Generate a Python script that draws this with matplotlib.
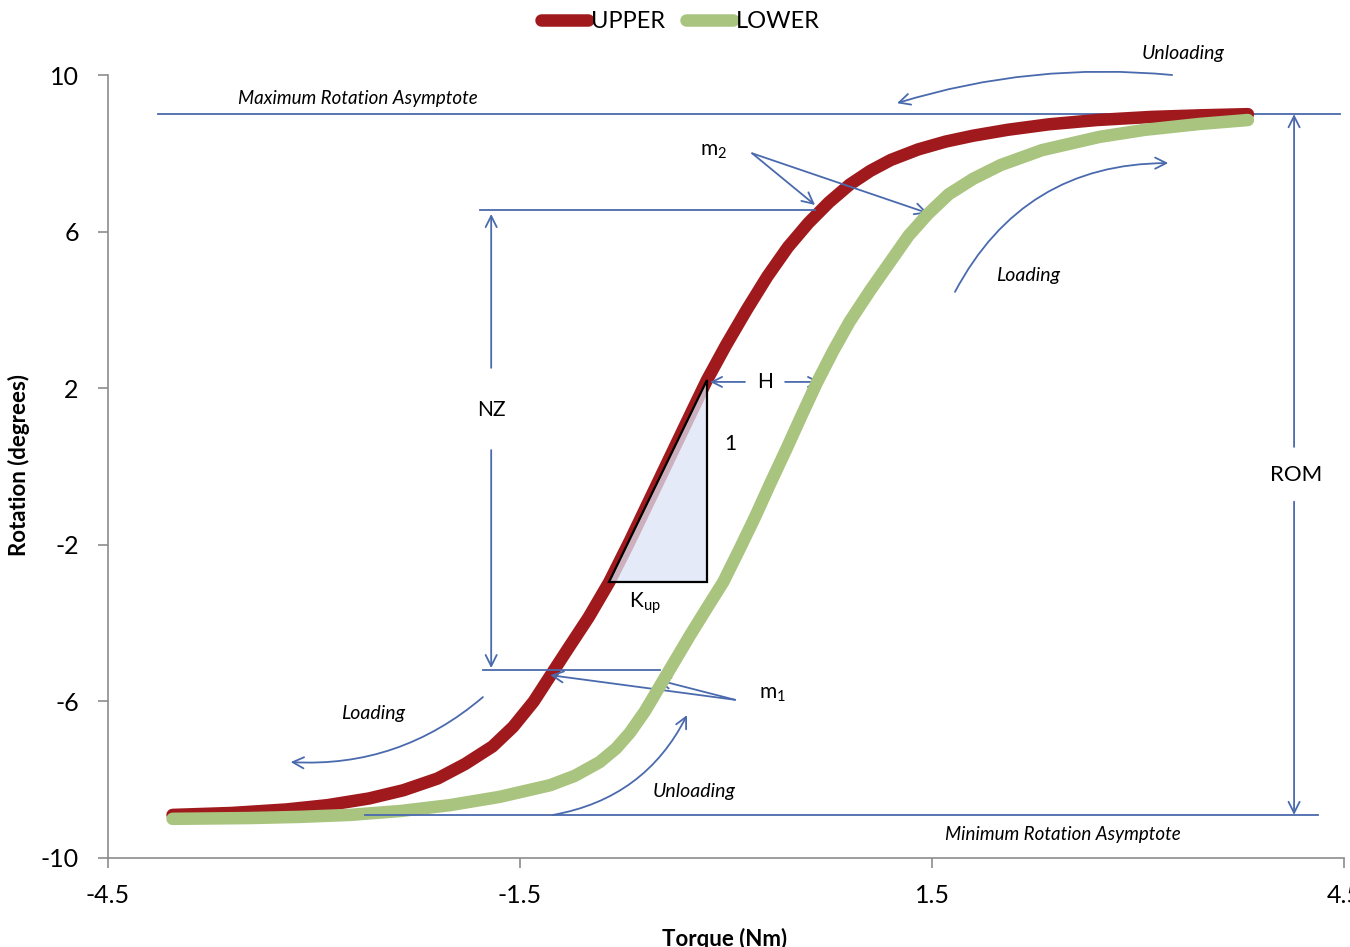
import matplotlib.pyplot as plt

# --- values (torque in Nm, rotation in degrees) ---
upper_torque = [-4.03, -3.6, -3.2, -2.9, -2.6, -2.35, -2.1, -1.9, -1.7, -1.55,
                -1.4, -1.28, -1.15, -1.0, -0.85, -0.7, -0.55, -0.4, -0.25, -0.14,
                0.0, 0.15, 0.3, 0.45, 0.6, 0.75, 0.9, 1.05, 1.2, 1.4,
                1.6, 1.8, 2.05, 2.35, 2.7, 3.1, 3.45, 3.8]
upper_rotation = [-8.9, -8.85, -8.76, -8.65, -8.48, -8.27, -7.97, -7.6, -7.15, -6.65,
                  -6.0, -5.35, -4.65, -3.85, -2.95, -1.9, -0.8, 0.3, 1.4, 2.2,
                  3.1, 4.0, 4.85, 5.6, 6.22, 6.75, 7.2, 7.55, 7.83, 8.1,
                  8.3, 8.45, 8.6, 8.74, 8.85, 8.93, 8.97, 9.0]

lower_torque = [-4.03, -3.47, -3.1, -2.74, -2.37, -2.01, -1.65, -1.28, -1.1, -0.92,
                -0.8, -0.7, -0.59, -0.48, -0.37, -0.26, -0.14, -0.02, 0.1, 0.21,
                0.32, 0.44, 0.55, 0.66, 0.78, 0.9, 1.05, 1.2, 1.33, 1.47,
                1.62, 1.8, 2.0, 2.3, 2.72, 3.05, 3.45, 3.8]
lower_rotation = [-9.0, -8.98, -8.95, -8.9, -8.8, -8.65, -8.44, -8.14, -7.9, -7.55,
                  -7.2, -6.8, -6.25, -5.6, -4.95, -4.3, -3.62, -2.95, -2.1, -1.3,
                  -0.45, 0.45, 1.3, 2.13, 2.95, 3.7, 4.5, 5.25, 5.9, 6.45,
                  6.95, 7.35, 7.7, 8.08, 8.42, 8.6, 8.75, 8.85]

max_asymptote = 9.0
min_asymptote = -8.9
nz_top = 6.55
nz_bottom = -5.2
kup_triangle_x = [-0.852, -0.138, -0.138]
kup_triangle_y = [-2.95, -2.95, 2.21]

x_ticks = [-4.5, -1.5, 1.5, 4.5]
x_tick_labels = ["-4.5", "-1.5", "1.5", "4.5"]
y_ticks = [-10, -6, -2, 2, 6, 10]

RED = "#A01A1D"
GREEN = "#A8C47E"
BLUE = "#4A6AAE"
AXIS_GREY = "#8C8C8C"

plt.rcParams["font.family"] = ["Lato", "DejaVu Sans"]
plt.rcParams["mathtext.fontset"] = "custom"
plt.rcParams["mathtext.rm"] = "Lato"
plt.rcParams["axes.unicode_minus"] = False


def arrow(ax, start, end, rad=0.0, scale=20):
    ax.annotate("", xy=end, xytext=start, annotation_clip=False,
                arrowprops=dict(arrowstyle="->", color=BLUE, lw=1.3,
                                mutation_scale=scale, shrinkA=0, shrinkB=0,
                                connectionstyle=f"arc3,rad={rad}"))


fig = plt.figure(figsize=(13.5, 9.47), dpi=100)
ax = fig.add_axes([0.08, 0.094, 0.9156, 0.8268])

# --- curves ---
ax.plot(upper_torque, upper_rotation, color=RED, lw=9, solid_capstyle="round",
        solid_joinstyle="round", label="UPPER", zorder=3)
ax.plot(lower_torque, lower_rotation, color=GREEN, lw=9, solid_capstyle="round",
        solid_joinstyle="round", label="LOWER", zorder=4)

# --- asymptotes ---
ax.plot([-4.136, 4.47], [max_asymptote, max_asymptote], color=BLUE, lw=1.3, zorder=2, clip_on=False)
ax.plot([-2.63, 4.31], [min_asymptote, min_asymptote], color=BLUE, lw=1.3, zorder=5)
ax.text(-2.68, 9.41, "Maximum Rotation Asymptote", style="italic", fontsize=13.5,
        ha="center", va="center")
ax.text(2.45, -9.41, "Minimum Rotation Asymptote", style="italic", fontsize=13.5,
        ha="center", va="center")

# --- ROM ---
arrow(ax, (4.136, 0.5), (4.136, max_asymptote))
arrow(ax, (4.136, -0.9), (4.136, min_asymptote))
ax.text(4.15, -0.22, "ROM", fontsize=16, ha="center", va="center")

# --- NZ ---
ax.plot([-1.79, 0.65], [nz_top, nz_top], color=BLUE, lw=1.3, zorder=5)
ax.plot([-1.77, -0.48], [nz_bottom, nz_bottom], color=BLUE, lw=1.3, zorder=5)
arrow(ax, (-1.71, 2.52), (-1.71, nz_top - 0.1))
arrow(ax, (-1.71, 0.42), (-1.71, nz_bottom + 0.05))
ax.text(-1.71, 1.44, "NZ", fontsize=15, ha="center", va="center")

# --- K_up triangle ---
ax.fill(kup_triangle_x, kup_triangle_y, facecolor=(0.86, 0.89, 0.96, 0.75),
        edgecolor="black", lw=1.6, zorder=6)
ax.text(0.03, 0.57, "1", fontsize=15, ha="center", va="center")
ax.text(-0.59, -3.5, r"K$_\mathregular{up}$", fontsize=15, ha="center", va="center")

# --- H ---
arrow(ax, (0.138, 2.16), (-0.116, 2.16), scale=18)
arrow(ax, (0.43, 2.16), (0.684, 2.16), scale=18)
ax.text(0.284, 2.16, "H", fontsize=15, ha="center", va="center")

# --- m1 / m2 ---
ax.text(-0.09, 8.05, r"m$_\mathregular{2}$", fontsize=15, ha="center", va="center")
arrow(ax, (0.19, 8.0), (0.648, 6.68))
arrow(ax, (0.19, 8.0), (1.47, 6.47))
ax.text(0.335, -5.82, r"m$_\mathregular{1}$", fontsize=15, ha="center", va="center")
arrow(ax, (0.066, -5.96), (-1.28, -5.33))
arrow(ax, (0.066, -5.96), (-0.5, -5.45))

# --- loading / unloading arcs ---
arrow(ax, (3.248, 10.0), (1.245, 9.28), rad=0.1)
ax.text(3.33, 10.55, "Unloading", style="italic", fontsize=14, ha="center", va="center")
arrow(ax, (1.667, 4.46), (3.22, 7.75), rad=-0.3)
ax.text(2.2, 4.87, "Loading", style="italic", fontsize=14, ha="center", va="center")
arrow(ax, (-1.77, -5.89), (-3.17, -7.55), rad=-0.2)
ax.text(-2.57, -6.3, "Loading", style="italic", fontsize=14, ha="center", va="center")
arrow(ax, (-1.26, -8.9), (-0.284, -6.35), rad=0.25)
ax.text(-0.23, -8.31, "Unloading", style="italic", fontsize=14, ha="center", va="center")

# --- axes ---
ax.set_xlim(-4.5, 4.5)
ax.set_ylim(-10, 10)
ax.set_xticks(x_ticks)
ax.set_xticklabels(x_tick_labels)
ax.set_yticks(y_ticks)
ax.tick_params(labelsize=18, length=7, width=1.2, color=AXIS_GREY)
ax.tick_params(axis="x", pad=12)
ax.tick_params(axis="y", pad=14)
for side in ("top", "right"):
    ax.spines[side].set_visible(False)
for side in ("left", "bottom"):
    ax.spines[side].set_color(AXIS_GREY)
    ax.spines[side].set_linewidth(1.2)

ax.set_xlabel("Torque (Nm)", fontsize=16, fontweight="bold")
ax.xaxis.set_label_coords(0.499, -0.089)
ax.set_ylabel("Rotation (degrees)", fontsize=16, fontweight="bold")
ax.yaxis.set_label_coords(-0.063, 0.502)

fig.legend(loc="center", bbox_to_anchor=(0.504, 0.977), ncol=2, frameon=False,
           fontsize=17, handlelength=2.0, handletextpad=0.1, columnspacing=0.9)

fig.savefig("out.png", dpi=100)
